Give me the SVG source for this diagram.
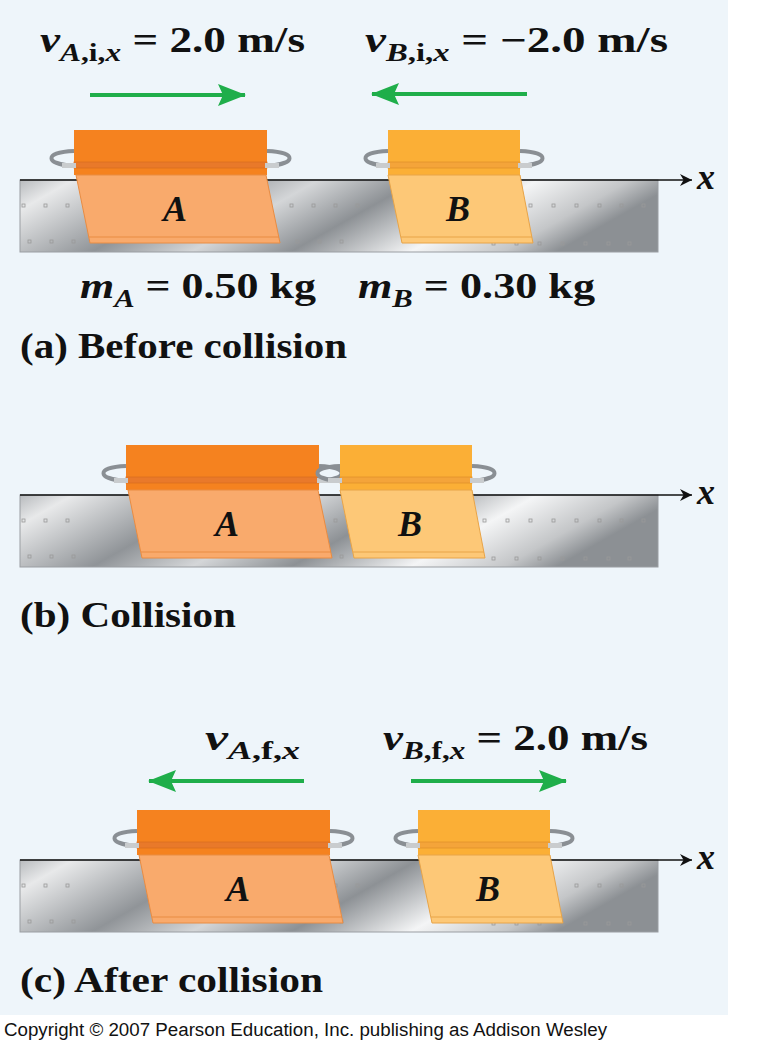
<svg xmlns="http://www.w3.org/2000/svg" width="768" height="1050" viewBox="0 0 768 1050">
<style>
.t{font-family:"Liberation Serif",serif;font-weight:bold;fill:#111}
.lab{font-family:"Liberation Serif",serif;font-weight:bold;font-style:italic;font-size:36px;fill:#111}
.ax{stroke:#111;stroke-width:1.5}
.ga{stroke:#1fae4a;stroke-width:4;marker-end:url(#g)}
.dot{fill:none;stroke:#999;stroke-width:0.8}
.bump{fill:none;stroke:#8a8f94;stroke-width:4}
</style>
<defs>
<marker id="g" viewBox="0 0 28 22" refX="27" refY="11" markerWidth="28" markerHeight="22" orient="auto" markerUnits="userSpaceOnUse"><path d="M0,0 L28,11 L0,22 L5,11 Z" fill="#1fae4a"/></marker>
<marker id="k" viewBox="0 0 10 10" refX="10" refY="5" markerWidth="22" markerHeight="12" orient="auto" markerUnits="userSpaceOnUse"><path d="M0,0 L10,5 L0,10 L3,5 Z" fill="#111"/></marker>
<linearGradient id="tr" x1="0" y1="0" x2="1" y2="0.2">
<stop offset="0" stop-color="#b8bbbe"/><stop offset="0.08" stop-color="#e8e9ea"/><stop offset="0.3" stop-color="#909498"/><stop offset="0.45" stop-color="#d4d6d8"/><stop offset="0.6" stop-color="#8d9195"/><stop offset="0.78" stop-color="#f4f5f6"/><stop offset="0.92" stop-color="#c4c6c8"/><stop offset="1" stop-color="#8c9094"/>
</linearGradient>
<g id="track">
<rect x="20" y="0" width="638" height="72" fill="url(#tr)" stroke="#9a9ea2"/>
<g class="dot">
<rect x="22" y="24" width="3" height="3"/><rect x="44" y="24" width="3" height="3"/><rect x="66" y="24" width="3" height="3"/>
<rect x="28" y="60" width="3" height="3"/><rect x="50" y="60" width="3" height="3"/><rect x="72" y="60" width="3" height="3"/>
<rect x="290" y="24" width="3" height="3"/><rect x="312" y="24" width="3" height="3"/><rect x="334" y="24" width="3" height="3"/><rect x="356" y="24" width="3" height="3"/>
<rect x="296" y="60" width="3" height="3"/><rect x="318" y="60" width="3" height="3"/><rect x="340" y="60" width="3" height="3"/>
<rect x="483" y="24" width="3" height="3"/><rect x="506" y="24" width="3" height="3"/><rect x="529" y="24" width="3" height="3"/><rect x="552" y="24" width="3" height="3"/><rect x="575" y="24" width="3" height="3"/><rect x="598" y="24" width="3" height="3"/><rect x="620" y="24" width="3" height="3"/><rect x="642" y="24" width="3" height="3"/>
<rect x="492" y="62" width="3" height="3"/><rect x="515" y="62" width="3" height="3"/><rect x="538" y="62" width="3" height="3"/><rect x="561" y="62" width="3" height="3"/><rect x="584" y="62" width="3" height="3"/><rect x="607" y="62" width="3" height="3"/><rect x="628" y="62" width="3" height="3"/>
</g>
<line class="ax" x1="20" y1="0" x2="692" y2="0" marker-end="url(#k)"/>
<text x="697" y="9" class="lab">x</text>
</g>
<g id="blkA">
<path class="bump" d="M0,36 C-30,34 -30,22 0,21"/>
<path class="bump" d="M193,36 C223,34 223,22 193,21"/>
<rect x="0" y="0" width="193" height="45" fill="#f5821f"/>
<rect x="0" y="32" width="193" height="6" fill="#e9792a" stroke="#d96f20" stroke-width="0.8"/>
<rect x="-12" y="33" width="14" height="5" fill="#c9ccce"/><rect x="191" y="33" width="14" height="5" fill="#c9ccce"/>
<path d="M2,45 L192,45 L206,113 L16,113 Z" fill="#f9aa6c" stroke="#e98c42" stroke-width="1"/>
<line x1="15" y1="107" x2="205" y2="107" stroke="#e98c42"/>
</g>
<g id="blkB">
<path class="bump" d="M0,36 C-30,34 -30,22 0,21"/>
<path class="bump" d="M132,36 C162,34 162,22 132,21"/>
<rect x="0" y="0" width="132" height="45" fill="#fbaf36"/>
<rect x="0" y="32" width="132" height="6" fill="#f4a43a" stroke="#e2922c" stroke-width="0.8"/>
<rect x="-12" y="33" width="14" height="5" fill="#c9ccce"/><rect x="130" y="33" width="14" height="5" fill="#c9ccce"/>
<path d="M0,45 L132,45 L145,113 L14,113 Z" fill="#fdc877" stroke="#e8a448" stroke-width="1"/>
<line x1="13" y1="107" x2="144" y2="107" stroke="#e8a448"/>
</g>
</defs>
<rect x="0" y="0" width="768" height="1050" fill="#ffffff"/>
<rect x="0" y="0" width="728" height="1015" fill="#eef5fa"/>

<g id="panel-a">
<use href="#track" y="180"/>
<g id="nodeA-a"><use href="#blkA" x="74" y="130"/><text x="175" y="221" class="lab" text-anchor="middle">A</text></g>
<g id="nodeB-a"><use href="#blkB" x="388" y="130"/><text x="458" y="221" class="lab" text-anchor="middle">B</text></g>
<text x="40" y="52" class="t" font-size="36" textLength="265" lengthAdjust="spacingAndGlyphs"><tspan font-style="italic">v</tspan><tspan font-size="25" dy="9"><tspan font-style="italic">A</tspan>,i,<tspan font-style="italic">x</tspan></tspan><tspan dy="-9"> = 2.0 m/s</tspan></text>
<text x="365" y="52" class="t" font-size="36" textLength="303" lengthAdjust="spacingAndGlyphs"><tspan font-style="italic">v</tspan><tspan font-size="25" dy="9"><tspan font-style="italic">B</tspan>,i,<tspan font-style="italic">x</tspan></tspan><tspan dy="-9"> = −2.0 m/s</tspan></text>
<text x="80" y="298" class="t" font-size="36" textLength="236" lengthAdjust="spacingAndGlyphs"><tspan font-style="italic">m</tspan><tspan font-size="25" dy="9" font-style="italic">A</tspan><tspan dy="-9"> = 0.50 kg</tspan></text>
<text x="358" y="298" class="t" font-size="36" textLength="237" lengthAdjust="spacingAndGlyphs"><tspan font-style="italic">m</tspan><tspan font-size="25" dy="9" font-style="italic">B</tspan><tspan dy="-9"> = 0.30 kg</tspan></text>
<text x="20" y="358" class="t" font-size="36" textLength="327" lengthAdjust="spacingAndGlyphs">(a) Before collision</text>
</g>
<g id="panel-b">
<use href="#track" y="495"/>
<g id="nodeA-b"><use href="#blkA" x="126" y="445"/><text x="227" y="536" class="lab" text-anchor="middle">A</text></g>
<g id="nodeB-b"><use href="#blkB" x="340" y="445"/><text x="410" y="536" class="lab" text-anchor="middle">B</text></g>
<text x="20" y="627" class="t" font-size="36" textLength="216" lengthAdjust="spacingAndGlyphs">(b) Collision</text>
</g>
<g id="panel-c">
<use href="#track" y="860"/>
<g id="nodeA-c"><use href="#blkA" x="137" y="810"/><text x="238" y="901" class="lab" text-anchor="middle">A</text></g>
<g id="nodeB-c"><use href="#blkB" x="418" y="810"/><text x="488" y="901" class="lab" text-anchor="middle">B</text></g>
<text x="205" y="750" class="t" font-size="36" textLength="95" lengthAdjust="spacingAndGlyphs"><tspan font-style="italic">v</tspan><tspan font-size="25" dy="9"><tspan font-style="italic">A</tspan>,f,<tspan font-style="italic">x</tspan></tspan></text>
<text x="383" y="750" class="t" font-size="36" textLength="265" lengthAdjust="spacingAndGlyphs"><tspan font-style="italic">v</tspan><tspan font-size="25" dy="9"><tspan font-style="italic">B</tspan>,f,<tspan font-style="italic">x</tspan></tspan><tspan dy="-9"> = 2.0 m/s</tspan></text>
<text x="20" y="992" class="t" font-size="36" textLength="303" lengthAdjust="spacingAndGlyphs">(c) After collision</text>
</g>
<g id="connectors">
<line class="ga" x1="90" y1="95" x2="245" y2="95"/>
<line class="ga" x1="527" y1="94" x2="372" y2="94"/>
<line class="ga" x1="304" y1="781" x2="149" y2="781"/>
<line class="ga" x1="411" y1="781" x2="566" y2="781"/>
</g>
<text x="4" y="1036" font-family="Liberation Sans, sans-serif" font-size="18" fill="#111" textLength="603" lengthAdjust="spacingAndGlyphs">Copyright © 2007 Pearson Education, Inc. publishing as Addison Wesley</text>
</svg>
